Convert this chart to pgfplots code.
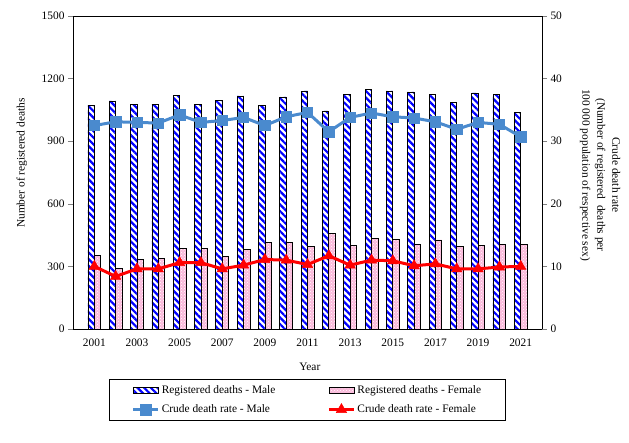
\documentclass[border=0pt]{standalone}
\usepackage{fontspec}
\setmainfont{Liberation Serif}
\usepackage{pgfplots}
\usepackage{pgfplotstable}
\pgfplotsset{compat=1.18}
\usetikzlibrary{patterns,patterns.meta}

\definecolor{ratemale}{RGB}{74,138,206}
\definecolor{ratefemale}{RGB}{255,0,0}
\definecolor{barblue}{RGB}{0,0,255}
\definecolor{barpink}{RGB}{250,185,218}

\pgfplotsset{
  barleg/.style={legend image code/.code={\draw[##1] (0pt,-3pt) rectangle (25pt,3pt);}},
  lineleg/.style={legend image code/.code={\draw[##1, mark repeat=2, mark phase=2]
      plot coordinates {(0pt,0pt) (12.5pt,0pt) (25pt,0pt)};}},
  malebar/.style={draw=black, line width=0.7pt, fill=white,
    postaction={pattern={Lines[angle=-45,distance=4.7pt,line width=2.2pt]}, pattern color=barblue}},
  femalebar/.style={draw=black, line width=0.7pt, fill=barpink,
    postaction={pattern=crosshatch dots, pattern color=white}},
}

% x = 0 is 2001, ..., 20 is 2021
\pgfplotstableread{
x  male female ratem ratef
0  1072 353 32.5 10.0
1  1093 291 33.1 8.4
2  1078 334 33.0 9.6
3  1078 340 32.9 9.6
4  1121 387 34.2 10.6
5  1078 387 33.0 10.6
6  1097 348 33.3 9.6
7  1117 383 33.8 10.2
8  1073 415 32.5 11.1
9  1112 415 33.9 11.0
10 1141 396 34.6 10.3
11 1045 459 31.5 11.7
12 1125 401 33.8 10.2
13 1150 436 34.5 11.0
14 1141 431 33.9 10.9
15 1136 406 33.7 10.1
16 1126 427 33.1 10.4
17 1086 396 31.9 9.6
18 1131 401 33.0 9.6
19 1126 406 32.7 9.9
20 1038 406 30.7 10.0
}\deaths

\begin{document}
\begin{tikzpicture}[font=\fontsize{11.4}{15}\selectfont]
\useasboundingbox (0,0) rectangle (629pt,443pt);
\pgfplotsset{
  every axis/.append style={
    at={(73pt,114pt)}, anchor=south west,
    scale only axis, width=469pt, height=313pt,
    xmin=-1, xmax=21,
    tick align=outside, major tick length=5pt,
    /pgf/number format/assume math mode=true,
    axis line style={line width=0.8pt},
  },
}
\begin{axis}[
  ymin=0, ymax=1500,
  ytick={0,300,...,1500},
  yticklabel style={/pgf/number format/1000 sep={}},
  ytick pos=left,
  xtick={0,2,...,20},
  xticklabels={2001,2003,2005,2007,2009,2011,2013,2015,2017,2019,2021},
  xtick style={draw=none},
  xticklabel style={yshift=-1pt},
  xlabel={Year},
  xlabel style={at={(axis description cs:0.505,-0.12)}, anchor=center},
  ylabel={Number of registered deaths},
  ylabel style={at={(axis description cs:-0.109,0.53)}, anchor=center},
]
  \addplot[ybar, bar width=6.4pt, bar shift=-3.2pt, malebar]
    table[x=x, y=male] {\deaths};
  \addplot[ybar, bar width=6.4pt, bar shift=3.2pt, femalebar]
    table[x=x, y=female] {\deaths};
\end{axis}
\begin{axis}[
  ymin=0, ymax=50,
  ytick={0,10,...,50},
  axis y line*=right, axis x line=none,
  ylabel={Crude death rate\\(Number of registered\ \ deaths per\\100 000 population of respective sex)},
  ylabel style={at={(axis description cs:1.1237,0.492)}, anchor=center, rotate=180, align=center},
  legend columns=2,
  legend cell align=left,
  legend style={draw=black, line width=0.8pt, at={(0.5,-0.16)}, anchor=north,
    inner xsep=22pt, inner ysep=4pt, row sep=6pt,
    /tikz/every even column/.append style={column sep=50pt}},
]
  \addlegendimage{barleg, malebar}
  \addlegendentry{Registered deaths - Male}
  \addlegendimage{barleg, femalebar}
  \addlegendentry{Registered deaths - Female}
  \addplot[lineleg, ratemale, line width=3pt, mark=square*, mark size=5.2pt,
    mark options={solid, line width=0.5pt}]
    table[x=x, y=ratem] {\deaths};
  \addlegendentry{Crude death rate - Male}
  \addplot[lineleg, ratefemale, line width=3pt, mark=triangle*, mark size=6pt,
    mark options={solid, line width=0.5pt}]
    table[x=x, y=ratef] {\deaths};
  \addlegendentry{Crude death rate - Female}
\end{axis}
\end{tikzpicture}
\end{document}
